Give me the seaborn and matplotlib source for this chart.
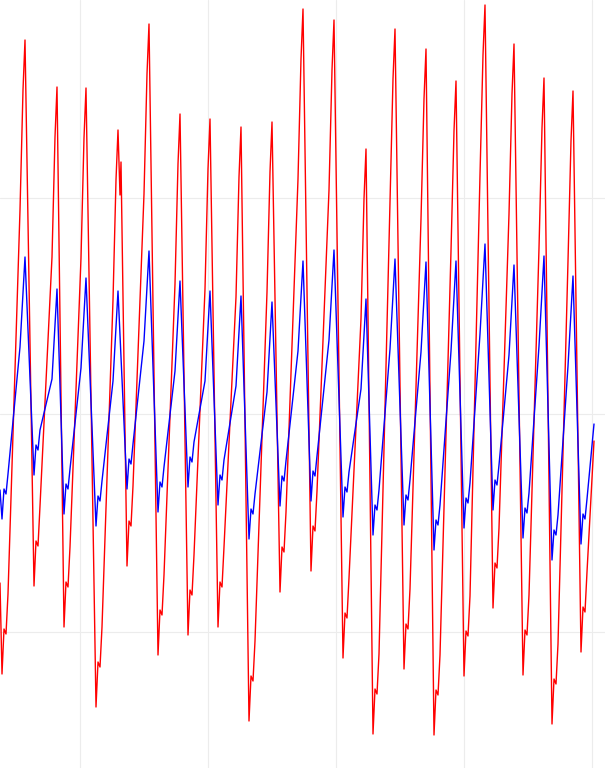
import matplotlib
matplotlib.use("Agg")
import matplotlib.pyplot as plt
import seaborn as sns
import pandas as pd

# sample positions and readings (screen-style level, larger = lower on chart)
x = [0, 2, 4, 6, 8, 20, 23, 25,
     34, 36, 38, 40, 52, 55, 57,
     64, 66, 68, 70, 81, 84, 86,
     96, 98, 100, 102, 113, 116, 118, 120, 121,
     127, 129, 131, 133, 144, 147, 149,
     158, 160, 162, 164, 175, 178, 180,
     188, 190, 192, 194, 205, 208, 210,
     218, 220, 222, 224, 236, 239, 241,
     249, 251, 253, 255, 267, 270, 272,
     280, 282, 284, 286, 298, 301, 303,
     311, 313, 315, 317, 329, 332, 334,
     343, 345, 347, 349, 361, 364, 366,
     373, 375, 377, 379, 390, 393, 395,
     404, 406, 408, 410, 421, 424, 426,
     434, 436, 438, 440, 451, 454, 456,
     464, 466, 468, 470, 480, 483, 485,
     493, 495, 497, 499, 509, 512, 514,
     523, 525, 527, 529, 539, 542, 544,
     552, 554, 556, 558, 568, 571, 573,
     581, 583, 585, 587, 594]

red = [583, 674, 629, 634, 594, 210, 90, 40,
       586, 541, 546, 506, 257, 137, 87,
       627, 582, 587, 547, 258, 138, 88,
       707, 662, 667, 627, 300, 180, 130, 195, 162,
       566, 521, 526, 486, 194, 74, 24,
       655, 610, 615, 575, 284, 164, 114,
       635, 590, 595, 555, 289, 169, 119,
       627, 582, 587, 547, 297, 177, 127,
       721, 676, 681, 641, 292, 172, 122,
       592, 547, 552, 512, 179, 59, 9,
       571, 526, 531, 491, 190, 70, 20,
       658, 613, 618, 578, 319, 199, 149,
       734, 689, 694, 654, 199, 79, 29,
       669, 624, 629, 589, 219, 99, 49,
       735, 690, 695, 655, 251, 131, 81,
       676, 631, 636, 596, 175, 55, 5,
       608, 563, 568, 528, 214, 94, 44,
       675, 630, 635, 595, 248, 128, 78,
       724, 679, 684, 644, 261, 141, 91,
       652, 607, 612, 572, 441]

blue = [490, 519, 489, 494, 474, 347, 292, 257,
        475, 445, 450, 430, 379, 324, 289,
        514, 484, 489, 469, 368, 313, 278,
        526, 496, 501, 481, 381, 326, 291, 335, 357,
        489, 459, 464, 444, 341, 286, 251,
        512, 482, 487, 467, 371, 316, 281,
        487, 457, 462, 442, 381, 326, 291,
        505, 475, 480, 460, 386, 331, 296,
        539, 509, 514, 494, 392, 337, 302,
        506, 476, 481, 461, 351, 296, 261,
        501, 471, 476, 456, 340, 285, 250,
        517, 487, 492, 472, 389, 334, 299,
        535, 505, 510, 490, 349, 294, 259,
        525, 495, 500, 480, 352, 297, 262,
        550, 520, 525, 505, 351, 296, 261,
        528, 498, 503, 483, 334, 279, 244,
        510, 480, 485, 465, 355, 300, 265,
        538, 508, 513, 493, 346, 291, 256,
        560, 530, 535, 515, 366, 311, 276,
        544, 514, 519, 499, 424]

df = pd.DataFrame({"x": x, "red": red, "blue": blue})

sns.set_style("whitegrid", {"grid.color": "#ececec"})
fig = plt.figure(figsize=(6.05, 7.68), dpi=100)
ax = fig.add_axes([0, 0, 1, 1])

sns.lineplot(data=df, x="x", y="red", color="red", lw=1, ax=ax)
sns.lineplot(data=df, x="x", y="blue", color="blue", lw=1, ax=ax)

ax.set_xlim(0, 605)
ax.set_ylim(768, 0)
ax.set_xticks([80, 208, 336, 464, 592])
ax.set_yticks([198, 414, 632])
ax.tick_params(length=0, labelbottom=False, labelleft=False)
ax.set_xlabel("")
ax.set_ylabel("")
for s in ax.spines.values():
    s.set_visible(False)

fig.savefig("out.png", dpi=100)
